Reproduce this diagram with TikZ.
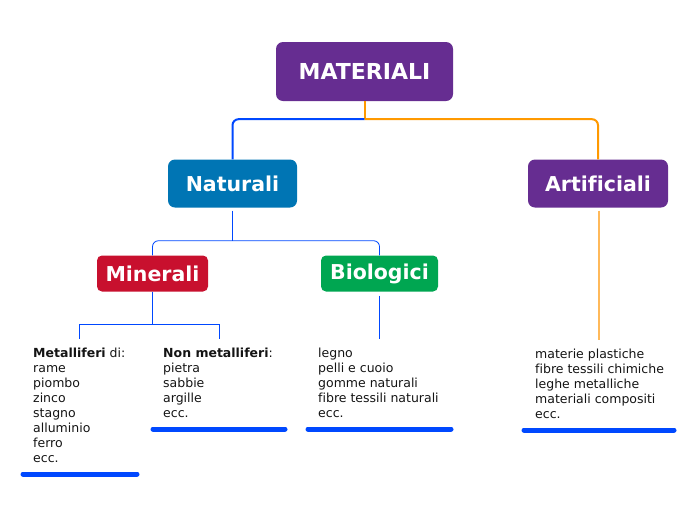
\documentclass[tikz,border=0pt]{standalone}
\usepackage{fontspec}
\setmainfont{DejaVu Sans}[Ligatures=CommonOff]
\definecolor{viola}{RGB}{102,45,145}
\definecolor{azzurro}{RGB}{0,117,180}
\definecolor{rosso}{RGB}{200,16,46}
\definecolor{verde}{RGB}{0,166,81}
\definecolor{linkblu}{RGB}{0,72,255}
\definecolor{linkarancio}{RGB}{255,153,0}
\definecolor{linkchiaro}{RGB}{255,185,90}
\definecolor{testo}{RGB}{20,20,20}
\tikzset{
	topic/.style={rounded corners=7pt, text=white, font=\bfseries\fontsize{20.5}{24}\selectfont, inner sep=0pt, minimum height=36pt},
	note/.style={anchor=north west, align=left, inner sep=0pt, text=testo, font=\fontsize{12.5}{15}\selectfont},
	bar/.style={linkblu, line width=5pt, line cap=round},
}
\begin{document}
\begin{tikzpicture}[x=1pt, y=-1pt]
	\useasboundingbox (0,0) rectangle (696,520);

	\node[topic, fill=viola, minimum width=177pt, minimum height=59pt, font=\bfseries\fontsize{22}{26}\selectfont] (mat) at (364.5,71.5) {MATERIALI};
	\node[topic, fill=azzurro, minimum width=129pt, minimum height=48pt] (nat) at (232.5,183.5) {Naturali};
	\node[topic, fill=viola, minimum width=140pt, minimum height=48pt] (art) at (598,183.5) {Artificiali};
	\node[topic, fill=rosso, minimum width=111pt, rounded corners=5pt] (min) at (152.5,273.5) {Minerali};
	\node[topic, fill=verde, minimum width=117pt, rounded corners=5pt] (bio) at (379.5,273.5) {Biologici};

	% lists
	\node[note] (metal) at (33,347.5) {\textbf{Metalliferi} di:\\rame\\piombo\\zinco\\stagno\\alluminio\\ferro\\ecc.};
	\node[note] (nonmetal) at (163,347.5) {\textbf{Non metalliferi}:\\pietra\\sabbie\\argille\\ecc.};
	\node[note] (biolist) at (318,347.5) {legno\\pelli e cuoio\\gomme naturali\\fibre tessili naturali\\ecc.};
	\node[note] (artlist) at (535,348.5) {materie plastiche\\fibre tessili chimiche\\leghe metalliche\\materiali compositi\\ecc.};

	% links
	\path (mat.south) ++(0,18) coordinate (j1);
	\draw[linkarancio, line width=2pt] (mat.south) -- (j1);
	\draw[linkblu, line width=2pt, rounded corners=6pt] (j1) -| (nat.north);
	\draw[linkarancio, line width=2pt, rounded corners=6pt] (j1) -| (art.north);

	\path (nat.south) ++(0,33) coordinate (j2);
	\draw[linkblu, line width=0.8pt] (nat.south) ++(0,3) -- (j2);
	\draw[linkblu, line width=0.8pt, rounded corners=6pt] (j2) -| (min.north);
	\draw[linkblu, line width=0.8pt, rounded corners=6pt] (j2) -| (bio.north);

	\path (min.south) ++(0,33) coordinate (j3);
	\coordinate (m1) at (79,339);
	\coordinate (m2) at (219,339);
	\draw[linkblu, line width=0.8pt] (min.south) -- (j3);
	\draw[linkblu, line width=0.8pt] (j3) -| (m1);
	\draw[linkblu, line width=0.8pt] (j3) -| (m2);

	\coordinate (b1) at (379.5,339);
	\draw[linkblu, line width=0.8pt] (bio.south) ++(0,4) -- (b1);

	\coordinate (a1) at (599,340);
	\draw[linkchiaro, line width=1.2pt] (art.south) ++(1,3) -- (a1);

	% underlines
	\draw[bar] (23,474) -- (137,474);
	\draw[bar] (153,429) -- (285,429);
	\draw[bar] (308,429) -- (451,429);
	\draw[bar] (524,430) -- (674,430);
\end{tikzpicture}
\end{document}
